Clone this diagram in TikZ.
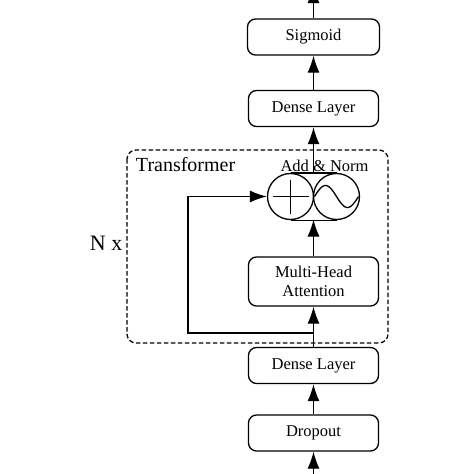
\documentclass[tikz,border=0pt]{standalone}
\usepackage{fontspec}
\setmainfont{Liberation Serif}
\usetikzlibrary{arrows.meta, positioning, calc}

\begin{document}
\begin{tikzpicture}[x=1pt,y=-1pt,line width=1.3pt,
  block/.style={draw, rounded corners=8pt, minimum width=130pt, minimum height=36pt,
    inner sep=2pt, align=center, font=\fontsize{16.5}{19}\selectfont},
  opcirc/.style={draw, circle, minimum size=46pt, inner sep=0pt},
  flow/.style={-{Latex[length=17pt,width=12pt]}}]
\useasboundingbox (0,0) rectangle (474,474);
% Output layers
\node[block, minimum width=132pt] (sig) at (313.5,37) {Sigmoid};
\node[block] (dense2) at (313.5,108.5) {Dense Layer};
% Transformer block
\draw[dash pattern=on 4.5pt off 2.5pt, rounded corners=9pt] (127,150) rectangle (388,343);
\node[anchor=base west, font=\fontsize{20}{22}\selectfont] (trf) at (132,171) {Transformer};
\node[anchor=base west, font=\fontsize{22}{24}\selectfont] (nx) at (86,250) {N x};
% Add & Norm
\node[opcirc] (add) at (290.5,196.5) {};
\node[opcirc] (norm) at (336.5,196.5) {};
\draw (add.north) -- (norm.north);
\draw (add.south) -- (norm.south);
\draw ($(add)+(-18,0)$) -- ($(add)+(18,0)$);
\draw ($(add)+(0,-17)$) -- ($(add)+(0,17)$);
\draw plot[domain=-22:22, samples=50] ({336.5+\x}, {196.5+11*sin(\x*180/22)});
\coordinate (antop) at (313.5,173.5);
\coordinate (anbot) at (313.5,219.5);
\node[font=\fontsize{16.5}{19}\selectfont] (anlbl) at (324.5,166) {Add \& Norm};
\node[block, minimum height=49pt] (mha) at (313.5,281.5) {Multi-Head\\Attention};
% Input layers
\node[block] (dense1) at (313.5,365.5) {Dense Layer};
\node[block] (drop) at (313.5,433) {Dropout};
% Connectors
\coordinate (out) at (313.5,-14);
\coordinate (in) at (313.5,480);
\coordinate (split) at (313.5,333);
\coordinate (skip) at (188,333);
\draw[flow] (sig.north) -- (out);
\draw[flow] (dense2.north) -- (sig.south);
\draw[flow] (antop) -- (dense2.south);
\draw[flow] (mha.north) -- (anbot);
\draw[flow] (dense1.north) -- (mha.south);
\draw[flow] (split) -- (skip) |- (add.west);
\draw[flow] (in) -- (drop.south);
\draw[flow] (drop.north) -- (dense1.south);
\end{tikzpicture}
\end{document}
